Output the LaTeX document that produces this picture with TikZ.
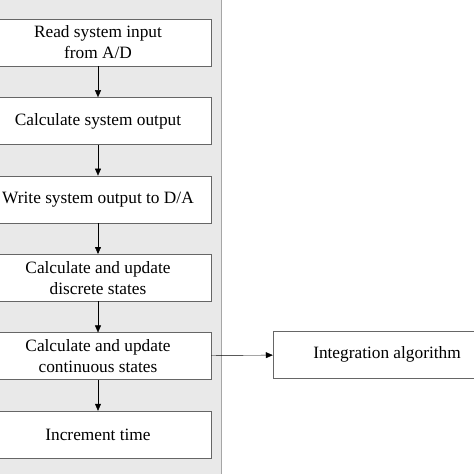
\documentclass[tikz,border=0pt]{standalone}
\usepackage{fontspec}
\setmainfont{Liberation Serif}
\usetikzlibrary{positioning,arrows.meta}

\tikzset{
  stepbox/.style={draw=gray!80!black, fill=white, minimum width=226pt, minimum height=47pt,
    align=center, inner sep=1pt, font=\fontsize{17.3}{21}\selectfont},
  flow/.style={-{Triangle[length=7pt,width=6pt]}, thin}
}

\begin{document}
\begin{tikzpicture}[x=1pt,y=-1pt, node distance=31pt]
\useasboundingbox (0,0) rectangle (474,474);
\draw[gray!70, fill=gray!17] (-5,-5) rectangle (221,480);

\node[stepbox] (read) at (98,42.5) {Read system input\\from A/D};
\node[stepbox, below=of read] (calc) {Calculate system output};
\node[stepbox, below=of calc] (write) {Write system output to D/A};
\node[stepbox, below=of write] (disc) {Calculate and update\\discrete states};
\node[stepbox, below=of disc] (cont) {Calculate and update\\continuous states};
\node[stepbox, below=of cont] (time) {Increment time};
\node[stepbox, minimum width=228pt] (integ) at (387,354.5) {Integration algorithm};

\draw[flow] (read) -- (calc);
\draw[flow] (calc) -- (write);
\draw[flow] (write) -- (disc);
\draw[flow] (disc) -- (cont);
\draw[flow] (cont) -- (time);
\draw[flow] (cont) -- (integ);
\end{tikzpicture}
\end{document}
